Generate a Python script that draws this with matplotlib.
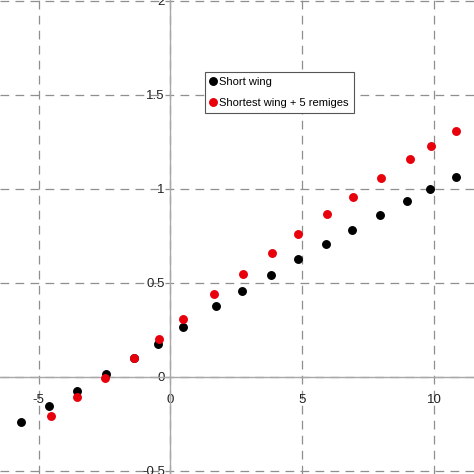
import numpy as np
import matplotlib.pyplot as plt

# Short wing
x_short = [-5.66, -4.59, -3.55, -2.45, -1.37, -0.48, 0.46, 1.71, 2.70, 3.81,
           4.84, 5.90, 6.86, 7.92, 8.96, 9.83, 10.81]
y_short = [-0.241, -0.154, -0.073, 0.016, 0.101, 0.174, 0.268, 0.376, 0.457, 0.544,
           0.626, 0.709, 0.784, 0.860, 0.936, 0.998, 1.064]

# Shortest wing + 5 remiges
x_rem = [-4.54, -3.53, -2.47, -1.38, -0.44, 0.46, 1.66, 2.75, 3.86, 4.84,
         5.94, 6.92, 7.97, 9.06, 9.88, 10.81]
y_rem = [-0.209, -0.106, -0.004, 0.101, 0.204, 0.307, 0.441, 0.549, 0.660, 0.759,
         0.865, 0.959, 1.057, 1.160, 1.229, 1.307]

xticks = [-5, 0, 5, 10]
yticks = [-0.5, 0, 0.5, 1, 1.5, 2]

plt.rcParams['font.family'] = ['Liberation Sans', 'DejaVu Sans']

fig = plt.figure(figsize=(4.74, 4.74), dpi=100)
ax = fig.add_axes([0, 0, 1, 1])

ax.plot(x_short, y_short, 'o', color='black', markersize=5.4, label='Short wing', zorder=3)
ax.plot(x_rem, y_rem, 'o', color='#e8000b', markersize=5.4, label='Shortest wing + 5 remiges', zorder=3)

ax.set_xlim(-6.46, 11.5)
ax.set_ylim(-0.516, 2.005)

# axes crossing at the origin
ax.spines['left'].set_position(('data', 0))
ax.spines['bottom'].set_position(('data', 0))
for s in ['left', 'bottom']:
    ax.spines[s].set_color('#a8a8a8')
    ax.spines[s].set_linewidth(1.0)
for s in ['top', 'right']:
    ax.spines[s].set_visible(False)

ax.set_xticks(xticks)
ax.set_yticks(yticks)
ax.set_xticklabels([f'{v:g}' for v in xticks])
ax.set_yticklabels([f'{v:g}' for v in yticks])
ax.tick_params(axis='both', length=0, labelsize=9.5, colors='#222222')
ax.tick_params(axis='x', pad=12)
ax.tick_params(axis='y', pad=4)

ax.grid(True, color='#8f8f8f', linestyle=(0, (7, 5)), linewidth=0.9)
ax.set_axisbelow(True)

leg = ax.legend(loc='upper left', bbox_to_anchor=(0.432, 0.848), fontsize=8,
                handlelength=0.5, handletextpad=0.35, borderpad=0.45,
                labelspacing=0.95, fancybox=False, framealpha=1, borderaxespad=0)
leg.get_frame().set_edgecolor('#555555')
leg.get_frame().set_linewidth(0.8)

fig.savefig('out.png', dpi=100)
